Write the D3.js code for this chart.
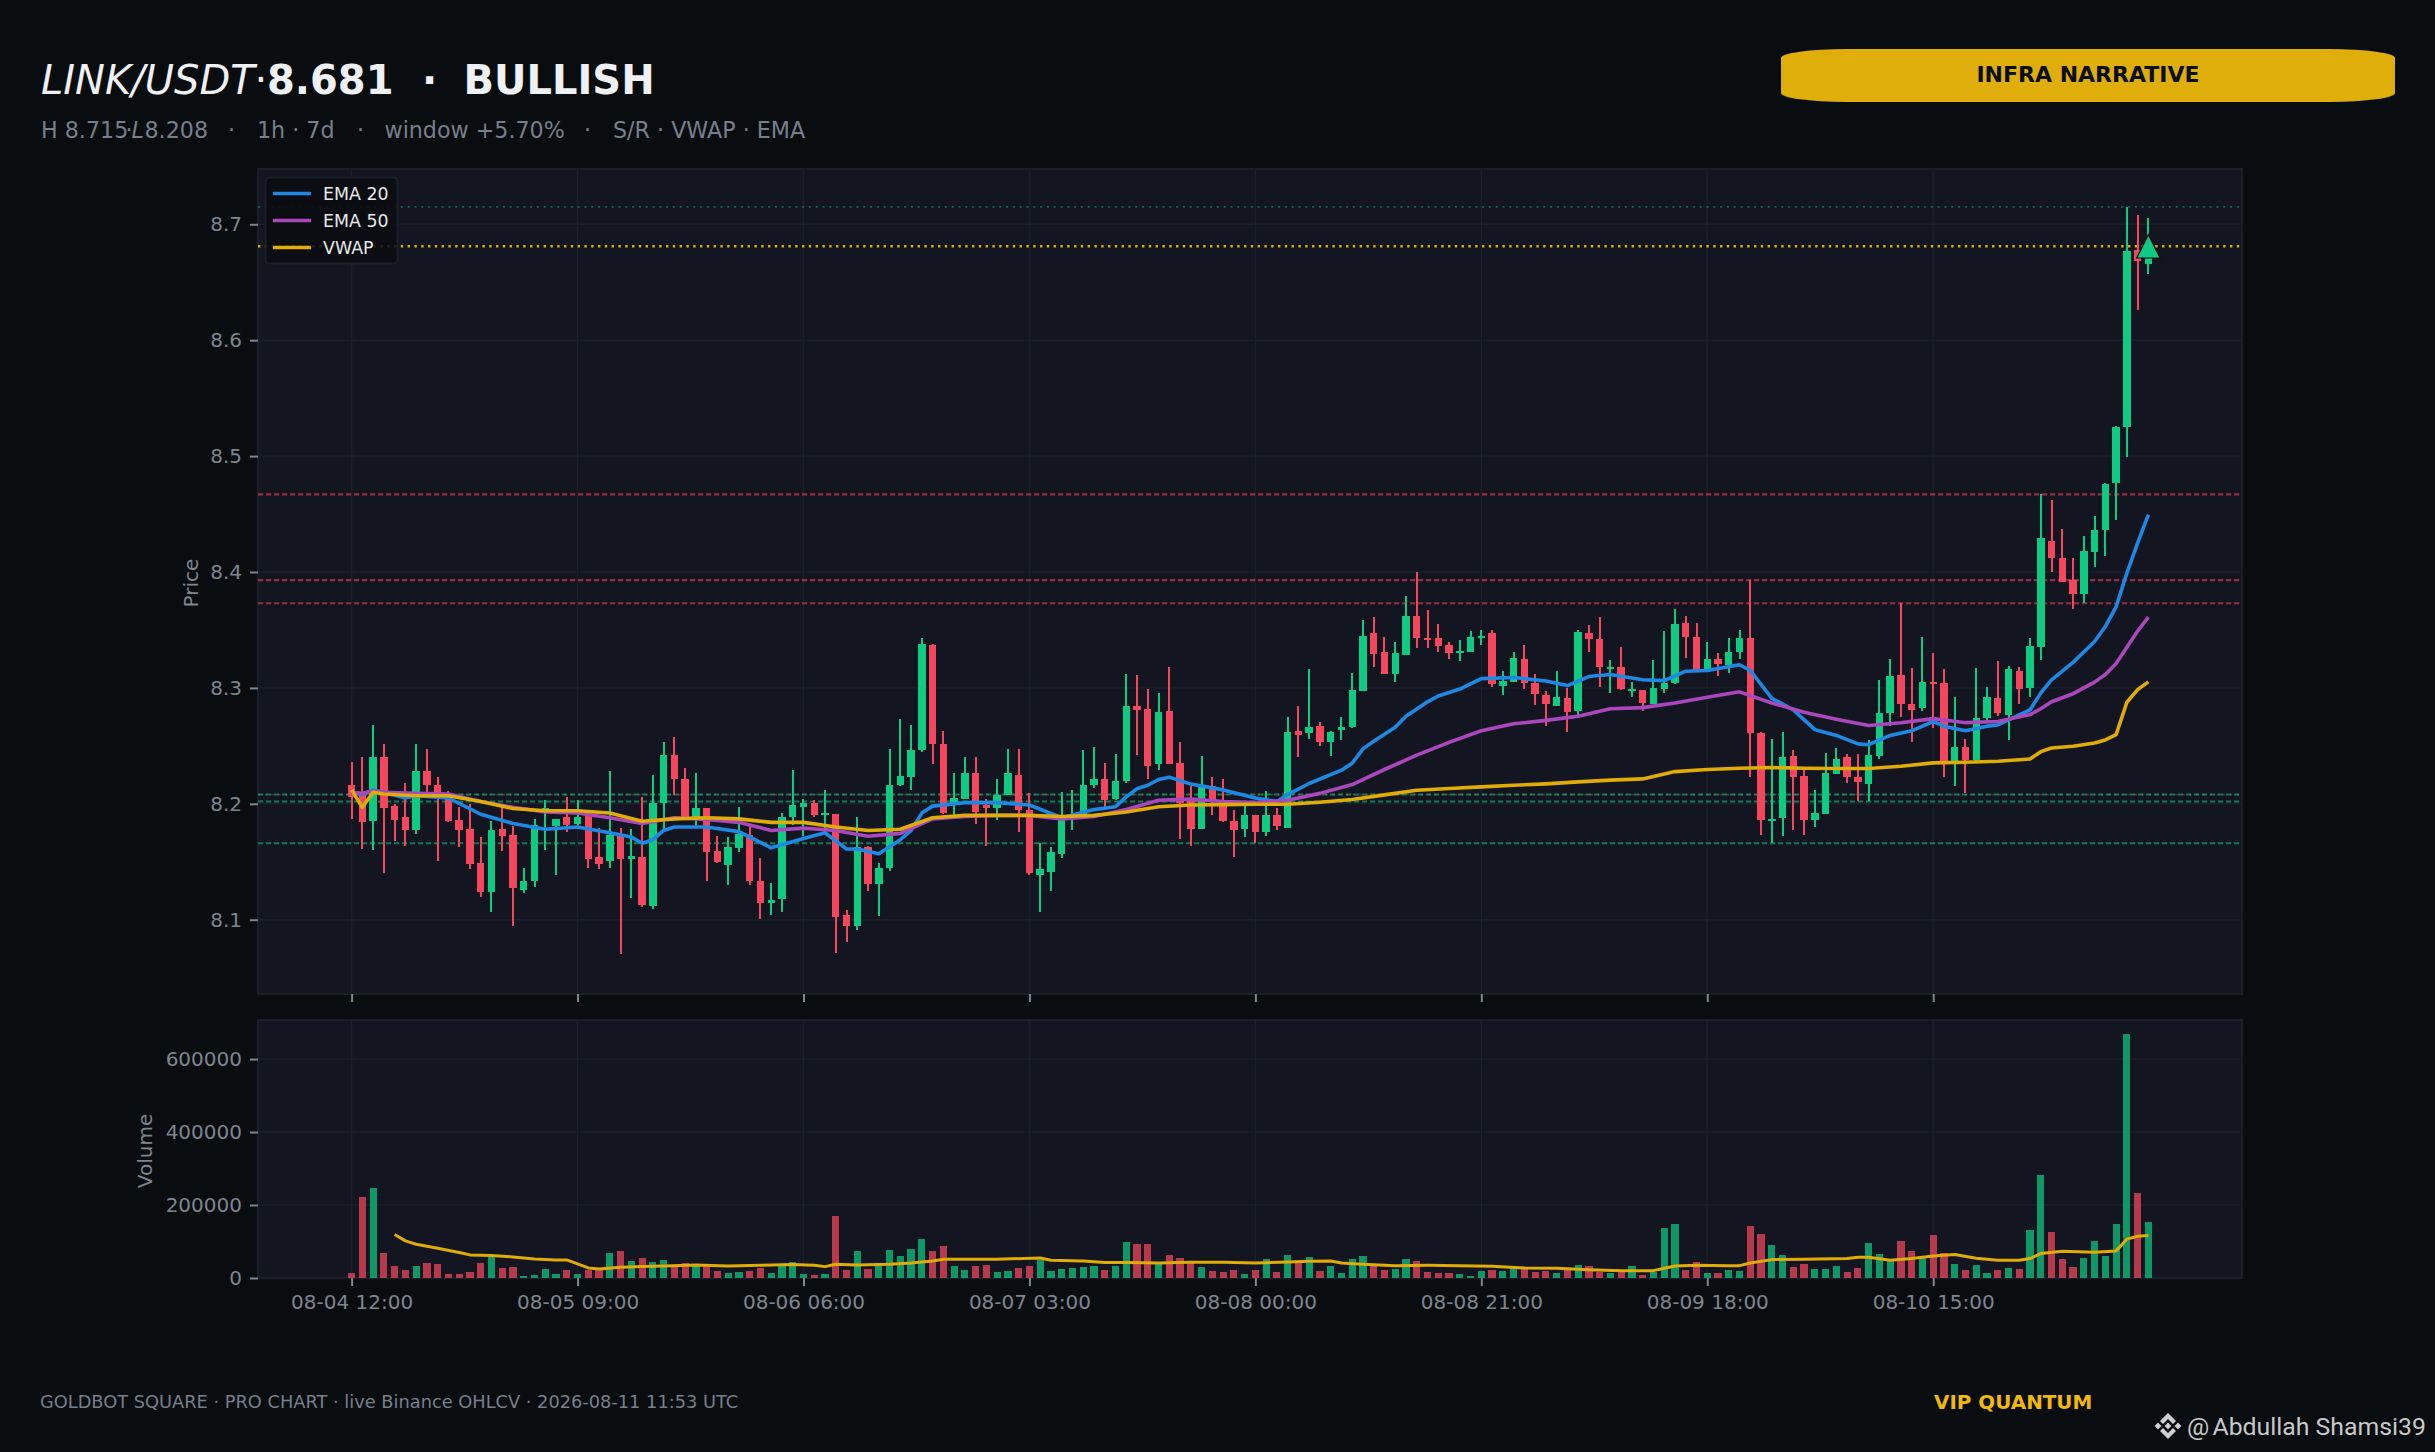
<!DOCTYPE html>
<html>
<head>
<meta charset="utf-8">
<script src="https://cdn.jsdelivr.net/npm/d3@7"></script>
<style>
  html, body { margin: 0; padding: 0; background: #0a0d10; }
  svg { display: block; }
  text { font-family: "DejaVu Sans", sans-serif; }
</style>
</head>
<body>
<div id="chart"></div>
<script>
// candles (1h, 168 bars)
const opens = [8.216,8.208,8.185,8.240,8.198,8.189,8.177,8.228,8.216,8.206,8.186,8.178,8.149,8.124,8.178,8.173,8.126,8.133,8.192,8.181,8.189,8.183,8.190,8.154,8.151,8.173,8.152,8.154,8.112,8.201,8.242,8.221,8.189,8.196,8.159,8.147,8.162,8.173,8.133,8.114,8.118,8.189,8.197,8.201,8.190,8.191,8.104,8.095,8.163,8.131,8.145,8.216,8.223,8.246,8.337,8.252,8.199,8.204,8.227,8.199,8.196,8.208,8.225,8.195,8.139,8.141,8.157,8.188,8.190,8.216,8.221,8.204,8.220,8.284,8.282,8.234,8.280,8.235,8.202,8.178,8.215,8.203,8.185,8.178,8.190,8.176,8.190,8.179,8.263,8.261,8.267,8.253,8.264,8.266,8.297,8.347,8.331,8.312,8.328,8.362,8.343,8.343,8.337,8.330,8.331,8.343,8.347,8.302,8.305,8.325,8.304,8.294,8.284,8.291,8.280,8.347,8.342,8.317,8.318,8.298,8.298,8.286,8.299,8.304,8.356,8.344,8.316,8.325,8.320,8.331,8.343,8.261,8.186,8.188,8.241,8.224,8.186,8.191,8.226,8.240,8.223,8.217,8.241,8.278,8.311,8.286,8.283,8.305,8.304,8.236,8.249,8.238,8.274,8.291,8.277,8.315,8.300,8.335,8.427,8.412,8.393,8.381,8.417,8.436,8.477,8.525,8.678,8.666];
const highs = [8.236,8.240,8.268,8.252,8.200,8.218,8.252,8.247,8.223,8.211,8.197,8.200,8.171,8.185,8.198,8.181,8.145,8.187,8.203,8.187,8.206,8.203,8.192,8.179,8.228,8.179,8.178,8.206,8.225,8.253,8.258,8.231,8.227,8.196,8.172,8.171,8.197,8.181,8.153,8.132,8.192,8.229,8.204,8.203,8.212,8.191,8.108,8.189,8.164,8.149,8.247,8.273,8.268,8.343,8.338,8.263,8.227,8.240,8.240,8.204,8.221,8.247,8.247,8.209,8.166,8.163,8.210,8.212,8.246,8.249,8.235,8.243,8.312,8.311,8.299,8.296,8.318,8.253,8.215,8.241,8.223,8.221,8.195,8.199,8.190,8.211,8.196,8.275,8.284,8.316,8.271,8.263,8.275,8.313,8.359,8.361,8.344,8.340,8.379,8.400,8.367,8.355,8.340,8.341,8.349,8.350,8.350,8.315,8.331,8.337,8.312,8.297,8.315,8.300,8.350,8.354,8.361,8.324,8.335,8.305,8.298,8.324,8.349,8.368,8.362,8.356,8.340,8.330,8.343,8.350,8.393,8.262,8.256,8.262,8.246,8.231,8.212,8.244,8.248,8.243,8.243,8.255,8.307,8.325,8.373,8.317,8.344,8.330,8.316,8.292,8.256,8.317,8.301,8.323,8.319,8.318,8.343,8.467,8.462,8.437,8.412,8.431,8.448,8.477,8.526,8.715,8.708,8.705];
const lows = [8.187,8.161,8.160,8.140,8.168,8.164,8.174,8.210,8.151,8.184,8.163,8.144,8.120,8.107,8.159,8.095,8.123,8.128,8.160,8.139,8.176,8.180,8.145,8.144,8.145,8.070,8.119,8.111,8.109,8.177,8.208,8.187,8.179,8.133,8.149,8.130,8.158,8.130,8.101,8.104,8.107,8.182,8.172,8.189,8.175,8.071,8.081,8.091,8.125,8.103,8.142,8.215,8.212,8.245,8.234,8.191,8.190,8.204,8.183,8.164,8.186,8.208,8.176,8.139,8.107,8.125,8.153,8.177,8.189,8.214,8.197,8.203,8.218,8.242,8.221,8.229,8.234,8.170,8.164,8.178,8.190,8.184,8.154,8.171,8.166,8.172,8.177,8.179,8.240,8.256,8.250,8.241,8.255,8.265,8.297,8.318,8.312,8.305,8.328,8.334,8.334,8.331,8.325,8.323,8.331,8.337,8.301,8.294,8.305,8.299,8.285,8.267,8.284,8.262,8.277,8.331,8.301,8.296,8.298,8.292,8.280,8.286,8.296,8.303,8.326,8.314,8.314,8.310,8.313,8.325,8.223,8.173,8.166,8.172,8.177,8.173,8.180,8.191,8.226,8.218,8.202,8.202,8.239,8.267,8.275,8.253,8.280,8.265,8.223,8.215,8.209,8.236,8.270,8.276,8.255,8.286,8.292,8.324,8.400,8.391,8.368,8.373,8.404,8.414,8.445,8.499,8.626,8.657];
const closes = [8.206,8.184,8.240,8.196,8.186,8.177,8.228,8.216,8.208,8.185,8.177,8.148,8.124,8.177,8.172,8.127,8.133,8.182,8.196,8.187,8.182,8.189,8.152,8.148,8.173,8.152,8.155,8.113,8.201,8.242,8.221,8.187,8.196,8.158,8.150,8.163,8.174,8.133,8.114,8.117,8.189,8.199,8.201,8.190,8.192,8.102,8.095,8.163,8.131,8.145,8.216,8.224,8.246,8.338,8.252,8.192,8.205,8.227,8.193,8.196,8.208,8.227,8.195,8.140,8.144,8.158,8.187,8.190,8.216,8.221,8.203,8.220,8.284,8.281,8.233,8.279,8.234,8.201,8.178,8.216,8.203,8.185,8.177,8.190,8.176,8.190,8.181,8.262,8.259,8.266,8.253,8.262,8.266,8.298,8.345,8.329,8.312,8.330,8.362,8.343,8.342,8.336,8.330,8.332,8.344,8.345,8.303,8.306,8.326,8.304,8.295,8.286,8.292,8.279,8.348,8.342,8.318,8.318,8.299,8.299,8.287,8.300,8.304,8.355,8.344,8.315,8.325,8.321,8.331,8.343,8.261,8.186,8.187,8.240,8.223,8.186,8.192,8.227,8.239,8.223,8.219,8.242,8.278,8.310,8.286,8.281,8.305,8.303,8.236,8.249,8.238,8.274,8.292,8.278,8.316,8.299,8.336,8.429,8.412,8.391,8.381,8.418,8.436,8.476,8.525,8.677,8.668,8.681];
const volumes = [13800,223000,247600,68800,33000,22000,33000,41300,38500,11000,11000,16500,41300,60500,27500,30300,5500,8300,24800,11000,22000,11000,22000,24800,68800,74300,46800,55000,44000,49500,35800,41300,33000,35800,19300,13800,16500,19300,27500,13800,33000,44000,11000,8300,11000,170600,22000,74300,24800,41300,77000,60500,79800,107300,74300,88000,33000,22000,33000,35800,16500,19300,27500,33000,49500,19300,24800,27500,30300,33000,22000,33000,99000,93500,93500,38500,63300,55000,41300,30300,19300,16500,22000,11000,22000,52300,16500,63300,41300,57800,19300,33000,13800,52300,60500,33000,22000,24800,52300,46800,16500,13800,13800,11000,5500,19300,22000,19300,27500,24800,16500,19300,13800,22000,35800,33000,16500,13800,16500,33000,8300,16500,137600,148600,22000,44000,13800,13800,22000,19300,143100,121000,90800,63300,30300,38500,24800,24800,33000,16500,27500,96300,66000,46800,101800,74300,55000,118300,68800,38500,22000,35800,13800,22000,27500,24800,132000,283400,126500,52300,30300,55000,101800,60500,148600,670000,233800,154100];

// overlays, each sampled at the candle numbers listed with it
const ema20Idx = [0,1,2,3,5,6,9,12,15,18,21,24,26,27,28,29,30,33,36,39,42,44,45,46,47,49,51,52,53,54,57,60,63,66,69,71,72,73,74,75,76,78,81,84,86,87,89,92,93,94,95,97,98,100,101,103,105,108,111,113,115,117,120,122,124,126,129,130,132,134,136,138,140,141,143,145,147,148,150,152,153,156,157,158,160,162,163,164,165,166,167];
const ema20 = [8.210,8.208,8.212,8.210,8.205,8.207,8.205,8.191,8.183,8.178,8.180,8.175,8.1713,8.166,8.169,8.177,8.180,8.180,8.176,8.162,8.170,8.175,8.168,8.161,8.161,8.157,8.169,8.177,8.192,8.198,8.201,8.201,8.199,8.188,8.195,8.1975,8.206,8.213,8.216,8.221,8.223,8.217,8.212,8.205,8.2019,8.208,8.2175,8.229,8.235,8.2474,8.254,8.266,8.2756,8.288,8.293,8.299,8.308,8.309,8.306,8.302,8.3098,8.3115,8.307,8.3063,8.3144,8.315,8.320,8.315,8.291,8.281,8.264,8.259,8.2517,8.251,8.259,8.263,8.271,8.267,8.263,8.267,8.268,8.281,8.2957,8.307,8.322,8.340,8.353,8.370,8.399,8.425,8.4495];

const lineIdx = [0,1,2,3,6,9,12,15,18,21,24,27,30,33,36,39,42,45,48,51,54,57,60,63,66,69,72,75,78,81,84,87,90,93,96,99,102,105,108,111,114,117,120,123,126,129,132,135,138,141,144,147,150,153,156,157,158,160,162,163,164,165,166,167];
const ema50 = [8.210,8.209,8.211,8.210,8.209,8.2084,8.202,8.197,8.193,8.192,8.188,8.183,8.188,8.1866,8.184,8.177,8.179,8.177,8.172,8.1745,8.187,8.189,8.190,8.190,8.187,8.189,8.195,8.203,8.204,8.202,8.201,8.203,8.209,8.2166,8.2296,8.242,8.253,8.263,8.269,8.272,8.2756,8.282,8.283,8.287,8.292,8.2966,8.287,8.279,8.273,8.2675,8.270,8.2735,8.270,8.271,8.277,8.282,8.288,8.295,8.305,8.3115,8.321,8.335,8.349,8.361];
const vwap = [8.212,8.197,8.210,8.2084,8.207,8.207,8.202,8.196,8.194,8.194,8.192,8.185,8.187,8.188,8.187,8.184,8.184,8.180,8.177,8.178,8.188,8.190,8.190,8.190,8.189,8.190,8.193,8.1975,8.199,8.1993,8.1996,8.1996,8.2014,8.2037,8.2077,8.2117,8.2132,8.2146,8.216,8.2172,8.2189,8.2204,8.2215,8.2278,8.2296,8.2307,8.2313,8.2307,8.2304,8.2304,8.2324,8.2353,8.2358,8.2367,8.2387,8.245,8.2482,8.2496,8.2525,8.2551,8.2597,8.2876,8.2985,8.3052];

const volMaIdx = [4,5,6,8,10,11,13,15,17,19,20,22,23,25,27,29,32,35,38,41,43,44,45,47,50,52,54,55,57,60,64,65,68,70,72,75,78,81,84,87,89,91,92,94,97,100,103,106,109,112,115,118,121,122,123,125,128,129,130,132,135,139,140,141,143,145,147,149,151,153,155,156,157,159,162,164,165,166,167];
const volMa = [119000,101800,92600,81600,69700,63300,61400,57800,52300,49500,49500,27500,24800,29300,31200,33000,35800,33000,34800,36700,34800,31200,37600,35800,37600,41300,46800,51400,51400,51400,55000,48600,46800,42200,42200,41300,43100,43100,41300,44000,45900,46800,41300,37600,33900,34800,33900,32100,27500,26600,22900,20200,20200,26600,33000,34800,33900,33900,41300,50400,51400,53200,56900,56900,48600,53200,60500,64200,54100,48600,48600,53200,66900,73400,70600,74300,106400,114600,116500];

// support / resistance levels
const resistLevels = [8.467, 8.393, 8.373];
const supportLevels = [8.208, 8.202, 8.166];
const dayLow = 8.208, dayHigh = 8.715, lastPrice = 8.681;

const priceTicks = [8.1, 8.2, 8.3, 8.4, 8.5, 8.6, 8.7];
const volTicks = [0, 200000, 400000, 600000];
const timeTicks = [0, 21, 42, 63, 84, 105, 126, 147];
const timeLabels = ["08-04 12:00","08-05 09:00","08-06 06:00","08-07 03:00","08-08 00:00","08-08 21:00","08-09 18:00","08-10 15:00"];

const legendNames = ["EMA 20", "EMA 50", "VWAP"];

const UP = "#0ecb81", DOWN = "#f6465d", GOLD = "#e0ac08", BLUE = "#1e88e5", PURPLE = "#ab47bc";
const GRID = "#1b1f29", PANEL = "#131620", BG = "#0a0d10", MUTED = "#767f8b", TICK = "#7d8590";

const W = 2435, H = 1452;
const left = 258, right = 2242;
const main = {top: 169, bottom: 994};
const vol = {top: 1020, bottom: 1278};

const svg = d3.select("#chart").append("svg").attr("width", W).attr("height", H);
svg.append("rect").attr("width", W).attr("height", H).attr("fill", BG);

const x = d3.scaleLinear().domain([-8.7, 175.7]).range([left, right]);
const y = d3.scaleLinear().domain([8.0359, 8.7477]).range([main.bottom, main.top]);
const yv = d3.scaleLinear().domain([0, 707000]).range([vol.bottom, vol.top]);

// panels and grid
function panel(box, scale, ticks) {
    const g = svg.append("g");
    g.append("rect").attr("x", left).attr("y", box.top)
        .attr("width", right - left).attr("height", box.bottom - box.top)
        .attr("fill", PANEL).attr("stroke", GRID).attr("stroke-width", 2);
    g.selectAll(".gy").data(ticks).enter().append("line")
        .attr("x1", left).attr("x2", right)
        .attr("y1", d => scale(d)).attr("y2", d => scale(d))
        .attr("stroke", GRID).attr("stroke-width", 1.4);
    g.selectAll(".gx").data(timeTicks).enter().append("line")
        .attr("y1", box.top).attr("y2", box.bottom)
        .attr("x1", d => x(d)).attr("x2", d => x(d))
        .attr("stroke", GRID).attr("stroke-width", 1.4);
}
panel(main, y, priceTicks);
panel(vol, yv, volTicks.slice(1));

// level lines
function level(v, color, width, dash, alpha) {
    svg.append("line").attr("x1", left).attr("x2", right)
        .attr("y1", y(v)).attr("y2", y(v))
        .attr("stroke", color).attr("stroke-width", width)
        .attr("stroke-dasharray", dash).attr("stroke-opacity", alpha);
}
level(dayHigh, UP, 1.6, "2.2 4.6", 0.42);
level(dayLow, DOWN, 1.6, "2.2 4.6", 0.42);
level(lastPrice, GOLD, 2.4, "2.4 4.4", 1);
resistLevels.forEach(v => level(v, DOWN, 2.1, "5.2 2.8", 0.56));
supportLevels.forEach(v => level(v, UP, 2.1, "5.2 2.8", 0.56));

// candles
const bars = d3.range(opens.length);
const color = i => closes[i] >= opens[i] ? UP : DOWN;
const candles = svg.append("g").attr("shape-rendering", "crispEdges");
candles.selectAll(".wick").data(bars).enter().append("rect")
    .attr("x", i => x(i) - 1).attr("width", 2)
    .attr("y", i => y(highs[i])).attr("height", i => y(lows[i]) - y(highs[i]))
    .attr("fill", color);
candles.selectAll(".body").data(bars).enter().append("rect")
    .attr("x", i => x(i) - 3.7).attr("width", 7.4)
    .attr("y", i => y(Math.max(opens[i], closes[i])))
    .attr("height", i => Math.max(Math.abs(y(opens[i]) - y(closes[i])), 2))
    .attr("fill", color);

// overlays
function overlay(idx, values, stroke) {
    svg.append("path").datum(values)
        .attr("fill", "none").attr("stroke", stroke).attr("stroke-width", 3.6)
        .attr("stroke-linejoin", "round")
        .attr("d", d3.line().x((d, k) => x(idx[k])).y(d => y(d)));
}
overlay(ema20Idx, ema20, BLUE);
overlay(lineIdx, ema50, PURPLE);
overlay(lineIdx, vwap, GOLD);

// last price marker
svg.append("path")
    .attr("transform", `translate(${x(167)},${y(lastPrice)})`)
    .attr("d", "M0,-11.7L11.7,11.7L-11.7,11.7Z")
    .attr("fill", UP).attr("stroke", BG).attr("stroke-width", 1.2);

// volume
svg.append("g").attr("shape-rendering", "crispEdges")
    .selectAll("rect").data(bars).enter().append("rect")
    .attr("x", i => x(i) - 3.6).attr("width", 7.2)
    .attr("y", i => yv(volumes[i])).attr("height", i => yv(0) - yv(volumes[i]))
    .attr("fill", color).attr("fill-opacity", 0.72);
svg.append("path").datum(volMa)
    .attr("fill", "none").attr("stroke", GOLD).attr("stroke-width", 3)
    .attr("stroke-linejoin", "round")
    .attr("d", d3.line().x((d, k) => x(volMaIdx[k])).y(d => yv(d)));

// axes
function styleAxis(g) {
    g.select(".domain").remove();
    g.selectAll("line").attr("stroke", TICK).attr("stroke-width", 2);
    g.selectAll("text").attr("fill", TICK).attr("font-size", 20)
        .attr("font-family", '"DejaVu Sans", sans-serif');
}
svg.append("g").attr("transform", `translate(${left},0)`)
    .call(d3.axisLeft(y).tickValues(priceTicks).tickSize(8).tickPadding(8).tickFormat(d3.format(".1f")))
    .call(styleAxis);
svg.append("g").attr("transform", `translate(${left},0)`)
    .call(d3.axisLeft(yv).tickValues(volTicks).tickSize(8).tickPadding(8).tickFormat(d3.format("d")))
    .call(styleAxis);
svg.append("g").attr("transform", `translate(0,${main.bottom})`)
    .call(d3.axisBottom(x).tickValues(timeTicks).tickSize(8).tickFormat(""))
    .call(styleAxis);
svg.append("g").attr("transform", `translate(0,${vol.bottom})`)
    .call(d3.axisBottom(x).tickValues(timeTicks).tickSize(8).tickPadding(9).tickFormat((d, k) => timeLabels[k]))
    .call(styleAxis);

svg.append("text").attr("transform", `translate(198,${(main.top + main.bottom) / 2 + 1.5}) rotate(-90)`)
    .attr("text-anchor", "middle").attr("fill", TICK).attr("font-size", 20).text("Price");
svg.append("text").attr("transform", `translate(152,${(vol.top + vol.bottom) / 2 + 2}) rotate(-90)`)
    .attr("text-anchor", "middle").attr("fill", TICK).attr("font-size", 20).text("Volume");

// legend
const legend = svg.append("g");
legend.append("rect").attr("x", 265.5).attr("y", 177.5).attr("width", 132).attr("height", 86)
    .attr("rx", 4).attr("fill", BG).attr("fill-opacity", 0.88)
    .attr("stroke", GRID).attr("stroke-width", 2);
[BLUE, PURPLE, GOLD].forEach((c, k) => {
    const ly = 193.5 + k * 27;
    legend.append("line").attr("x1", 273).attr("x2", 311).attr("y1", ly).attr("y2", ly)
        .attr("stroke", c).attr("stroke-width", 3.6);
    legend.append("text").attr("x", 323).attr("y", ly + 6)
        .attr("fill", "#e6e8eb").attr("font-size", 17.4).text(legendNames[k]);
});

// header
const title = svg.append("text").attr("y", 93.5).attr("font-size", 40).attr("fill", "#eef0f4");
title.append("tspan").attr("x", 41).attr("font-style", "italic").text("LINK/USDT");
title.append("tspan").attr("x", 254.5).text("·");
title.append("tspan").attr("x", 267).attr("font-weight", "bold").text("8.681");
title.append("tspan").attr("x", 422).attr("font-weight", "bold").text("·");
title.append("tspan").attr("x", 463.5).attr("font-weight", "bold").text("BULLISH");

const sub = svg.append("text").attr("y", 137.5).attr("font-size", 22.2).attr("fill", MUTED);
sub.append("tspan").attr("x", 41).text("H 8.715");
sub.append("tspan").attr("x", 125.5).text("·");
sub.append("tspan").attr("x", 131.5).attr("font-style", "italic").text("L");
sub.append("tspan").attr("x", 144.5).text("8.208");
sub.append("tspan").attr("x", 228).text("·");
sub.append("tspan").attr("x", 257).text("1h · 7d");
sub.append("tspan").attr("x", 357).text("·");
sub.append("tspan").attr("x", 384.5).text("window +5.70%");
sub.append("tspan").attr("x", 584).text("·");
sub.append("tspan").attr("x", 613).text("S/R · VWAP · EMA");

svg.append("rect").attr("x", 1781).attr("y", 49).attr("width", 614).attr("height", 53)
    .attr("rx", 65).attr("ry", 9).attr("fill", "#e0ae0a");
svg.append("text").attr("x", 2088).attr("y", 82.3).attr("text-anchor", "middle")
    .attr("font-size", 22).attr("font-weight", "bold").attr("fill", "#0b0e11").text("INFRA NARRATIVE");

// footer
svg.append("text").attr("x", 40).attr("y", 1408).attr("font-size", 17.8).attr("fill", MUTED)
    .text("GOLDBOT SQUARE · PRO CHART · live Binance OHLCV · 2026-08-11 11:53 UTC");
svg.append("text").attr("x", 1934).attr("y", 1409).attr("font-size", 19.9)
    .attr("font-weight", "bold").attr("fill", "#f0b90b").text("VIP QUANTUM");

// watermark
const mark = svg.append("g").attr("transform", "translate(2168,1426)").attr("fill", "#cfcfcf");
mark.append("path").attr("d",
    "M0,-13L8,-5L5,-2L0,-7L-5,-2L-8,-5Z M0,13L8,5L5,2L0,7L-5,2L-8,5Z " +
    "M0,-3.4L3.4,0L0,3.4L-3.4,0Z M-10,-3.4L-6.6,0L-10,3.4L-13.4,0Z M10,-3.4L13.4,0L10,3.4L6.6,0Z");
svg.append("text").attr("x", 2187).attr("y", 1435).attr("font-size", 24.8)
    .style("font-family", 'Roboto, sans-serif').attr("fill", "#c8c8c8").text("@");
svg.append("text").attr("x", 2212.5).attr("y", 1435).attr("font-size", 24.8)
    .style("font-family", 'Roboto, sans-serif').attr("fill", "#c8c8c8").text("Abdullah Shamsi39");
</script>
</body>
</html>
